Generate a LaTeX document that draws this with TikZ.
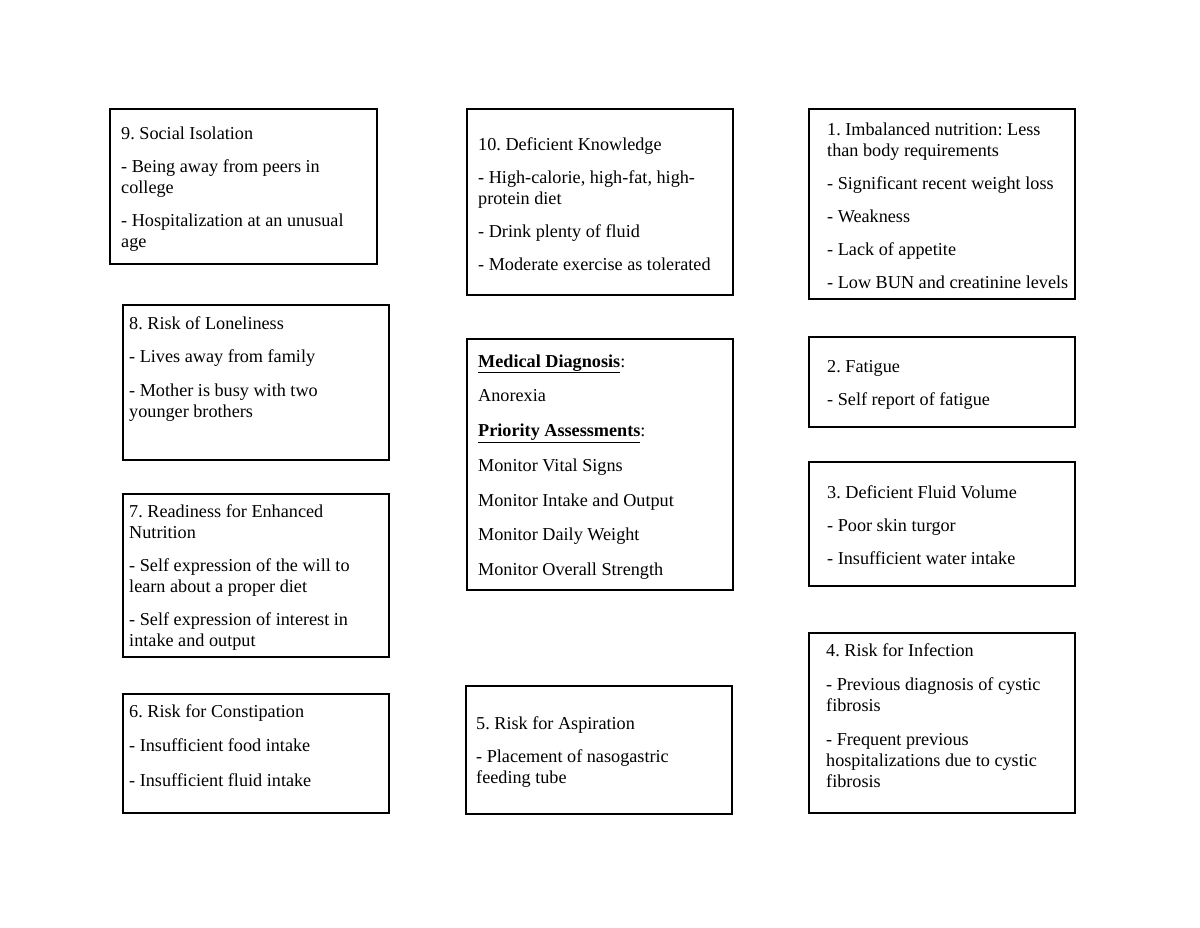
\documentclass[tikz,border=0pt]{standalone}
\usepackage{fontspec}
\setmainfont{Liberation Serif}
\usetikzlibrary{positioning}
\frenchspacing
\newcommand{\pgap}{\\[12pt]}
\newcommand{\mgap}{\\[13.7pt]}
\tikzset{
  boxnode/.style={draw=black, line width=2pt, rectangle, inner sep=0pt, fill=white},
  txtnode/.style={anchor=north west, inner sep=0pt, align=left, yshift=-2pt,
    font=\fontsize{18.2pt}{21pt}\selectfont\frenchspacing},
}
\begin{document}
\begin{tikzpicture}[x=1pt,y=-1pt]
\useasboundingbox (0,0) rectangle (1200,927);
% boxes
\node[boxnode, minimum width=267pt, minimum height=155pt] (b9) at (243.5,186.5) {};
\node[boxnode, minimum width=266pt, minimum height=155pt] (b8) at (256,382.5) {};
\node[boxnode, minimum width=266pt, minimum height=163pt] (b7) at (256,575.5) {};
\node[boxnode, minimum width=266pt, minimum height=119pt] (b6) at (256,753.5) {};
\node[boxnode, minimum width=266pt, minimum height=186pt] (b10) at (600,202) {};
\node[boxnode, minimum width=266pt, minimum height=251pt] (bmed) at (600,464.5) {};
\node[boxnode, minimum width=266pt, minimum height=128pt] (b5) at (599,750) {};
\node[boxnode, minimum width=266pt, minimum height=190pt] (b1) at (942,204) {};
\node[boxnode, minimum width=266pt, minimum height=90pt] (b2) at (942,382) {};
\node[boxnode, minimum width=266pt, minimum height=124pt] (b3) at (942,524) {};
\node[boxnode, minimum width=266pt, minimum height=180pt] (b4) at (942,723) {};
% texts
\node[txtnode] (t9) at (121,122.3) {\strut 9. Social Isolation\pgap
- Being away from peers in\\college\pgap
- Hospitalization at an unusual\\age};
\node[txtnode] (t8) at (129,312.3) {\strut 8. Risk of Loneliness\pgap
- Lives away from family\\[13pt]
- Mother is busy with two\\younger brothers};
\node[txtnode] (t7) at (129,500.3) {\strut 7. Readiness for Enhanced\\Nutrition\pgap
- Self expression of the will to\\learn about a proper diet\pgap
- Self expression of interest in\\intake and output};
\node[txtnode] (t6) at (129,700.3) {\strut 6. Risk for Constipation\\[13.5pt]
- Insufficient food intake\\[13.5pt]
- Insufficient fluid intake};
\node[txtnode] (t10) at (478,133.3) {\strut 10. Deficient Knowledge\pgap
- High-calorie, high-fat, high-\\protein diet\pgap
- Drink plenty of fluid\\[12.5pt]
- Moderate exercise as tolerated};
\node[txtnode] (tmed) at (478,350.3) {\strut \underline{\textbf{Medical Diagnosis}}:\mgap
Anorexia\mgap
\underline{\textbf{Priority Assessments}}:\mgap
Monitor Vital Signs\mgap
Monitor Intake and Output\mgap
Monitor Daily Weight\mgap
Monitor Overall Strength};
\node[txtnode] (t5) at (476,712.3) {\strut 5. Risk for Aspiration\pgap
- Placement of nasogastric\\feeding tube};
\node[txtnode] (t1) at (827,118.3) {\strut 1. Imbalanced nutrition: Less\\than body requirements\pgap
- Significant recent weight loss\pgap
- Weakness\\[12.5pt]
- Lack of appetite\pgap
- Low BUN and creatinine levels};
\node[txtnode] (t2) at (827,355.3) {\strut 2. Fatigue\pgap
- Self report of fatigue};
\node[txtnode] (t3) at (827,481.3) {\strut 3. Deficient Fluid Volume\pgap
- Poor skin turgor\pgap
- Insufficient water intake};
\node[txtnode] (t4) at (826,639.3) {\strut 4. Risk for Infection\\[13pt]
- Previous diagnosis of cystic\\fibrosis\\[13pt]
- Frequent previous\\hospitalizations due to cystic\\fibrosis};
\end{tikzpicture}
\end{document}
